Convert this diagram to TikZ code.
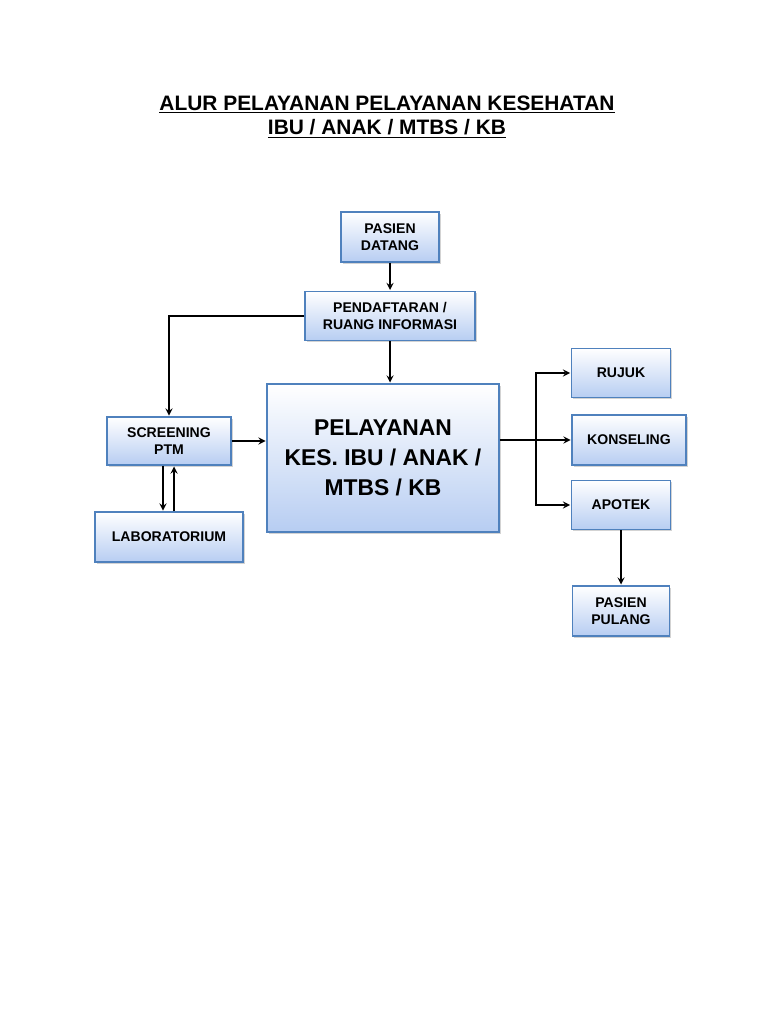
\documentclass[tikz,border=0pt]{standalone}
\usepackage{fontspec}
\setmainfont{Liberation Sans}
\usetikzlibrary{shadows}
\definecolor{boxline}{RGB}{79,129,189}
\definecolor{boxfill}{RGB}{183,205,242}
\tikzset{
    box/.style={draw=boxline, line width=0.7pt, top color=white, bottom color=boxfill,
        drop shadow={shadow xshift=1pt, shadow yshift=-1pt, opacity=0.35},
        font=\bfseries\fontsize{8}{10}\selectfont, align=center, inner sep=0pt},
    flow/.style={->, >=stealth, line width=0.8pt, shorten >=0.5pt}
}
\begin{document}
\begin{tikzpicture}[x=0.02cm, y=-0.02cm]
    \useasboundingbox (0, 0) rectangle (768, 1024);
    \node[font=\bfseries\fontsize{11.9}{14}\selectfont, align=center] (title) at (387, 117)
        {\underline{ALUR PELAYANAN PELAYANAN KESEHATAN}\\ \underline{IBU / ANAK / MTBS / KB}};

    \node[box, minimum width=98*0.02cm, minimum height=50*0.02cm] (datang) at (390, 237) {PASIEN\\DATANG};
    \node[box, minimum width=170*0.02cm, minimum height=49*0.02cm] (daftar) at (390, 316) {PENDAFTARAN /\\RUANG INFORMASI};
    \node[box, minimum width=232*0.02cm, minimum height=148*0.02cm, font=\bfseries\fontsize{13}{17}\selectfont] (layan) at (383, 458) {PELAYANAN\\KES. IBU / ANAK /\\MTBS / KB};
    \node[box, minimum width=124*0.02cm, minimum height=48*0.02cm] (screen) at (169, 441) {SCREENING\\PTM};
    \node[box, minimum width=148*0.02cm, minimum height=50*0.02cm] (lab) at (169, 537) {LABORATORIUM};
    \node[box, minimum width=99*0.02cm, minimum height=49*0.02cm] (rujuk) at (621, 373) {RUJUK};
    \node[box, minimum width=114*0.02cm, minimum height=50*0.02cm] (konsel) at (629, 440) {KONSELING};
    \node[box, minimum width=99*0.02cm, minimum height=49*0.02cm] (apotek) at (621, 505) {APOTEK};
    \node[box, minimum width=97*0.02cm, minimum height=50*0.02cm] (pulang) at (621, 611) {PASIEN\\PULANG};

    \coordinate (split) at (536, 440);

    \draw[flow] (datang) -- (daftar);
    \draw[flow] (daftar) -- (daftar |- layan.north);
    \draw[flow] (daftar.west) -| (screen);
    \draw[flow] (screen) -- (layan.west |- screen);
    \draw[flow] ([xshift=-6*0.02cm]screen.south) -- ([xshift=-6*0.02cm]lab.north);
    \draw[flow] ([xshift=5*0.02cm]lab.north) -- ([xshift=5*0.02cm]screen.south);
    \draw[line width=0.8pt] (layan.east |- split) -- (split);
    \draw[flow] (split) |- (rujuk);
    \draw[flow] (split) -- (konsel);
    \draw[flow] (split) |- (apotek);
    \draw[flow] (apotek) -- (pulang);
\end{tikzpicture}
\end{document}
